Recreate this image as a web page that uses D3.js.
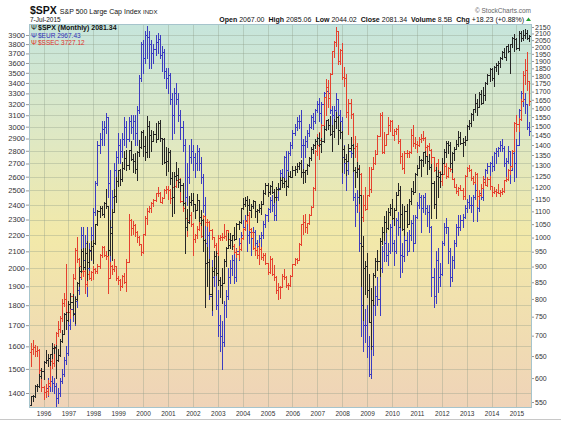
<!DOCTYPE html>
<html>
<head>
<meta charset="utf-8">
<script src="https://cdn.jsdelivr.net/npm/d3@7"></script>
<style>
  body { margin: 0; background: #fff; }
  svg text { font-family: "Liberation Sans", Arial, sans-serif; }
</style>
</head>
<body>
<div id="chart"></div>
<script>
// monthly bars, Jul 1995 .. Jul 2015
const firstMonth = new Date(1995, 6, 1);
const lastMonth = new Date(2015, 6, 1);
const eurFirstMonth = new Date(1996, 2, 1);

const yearLabels = [1996, 1997, 1998, 1999, 2000, 2001, 2002, 2003, 2004, 2005,
  2006, 2007, 2008, 2009, 2010, 2011, 2012, 2013, 2014, 2015];
const leftTicks = [1400, 1500, 1600, 1700, 1800, 1900, 2000, 2100, 2200, 2300, 2400, 2500,
  2600, 2700, 2800, 2900, 3000, 3100, 3200, 3300, 3400, 3500, 3600, 3700, 3800, 3900];
const rightTicks = [550, 600, 650, 700, 750, 800, 850, 900, 950, 1000, 1050, 1100, 1150, 1200,
  1250, 1300, 1350, 1400, 1450, 1500, 1550, 1600, 1650, 1700, 1750, 1800, 1850, 1900, 1950,
  2000, 2050, 2100, 2150];

// $SPX
const spxFirstOpen = 545;
const spxClose = [562,562,584,582,605,616,
  636,640,646,654,669,671,640,652,687,705,757,741,
  786,791,757,801,848,885,954,899,947,915,955,970,
  980,1049,1102,1112,1091,1134,1121,957,1017,1099,1164,1229,
  1280,1238,1286,1335,1302,1373,1329,1320,1283,1363,1389,1469,
  1394,1366,1499,1452,1421,1455,1431,1518,1437,1429,1315,1320,
  1366,1240,1160,1249,1256,1224,1211,1134,1041,1060,1139,1148,
  1130,1107,1147,1077,1067,990,912,916,815,886,936,880,
  856,841,848,917,964,975,990,1008,996,1051,1058,1112,
  1131,1145,1126,1107,1121,1141,1102,1104,1115,1130,1174,1212,
  1181,1204,1181,1157,1192,1191,1234,1220,1229,1207,1249,1248,
  1280,1281,1295,1311,1270,1270,1277,1304,1336,1378,1401,1418,
  1438,1407,1421,1482,1531,1503,1455,1474,1527,1549,1481,1468,
  1379,1331,1323,1386,1400,1280,1267,1283,1166,969,896,903,
  826,735,798,873,919,919,987,1021,1057,1036,1096,1115,
  1074,1104,1169,1187,1089,1031,1102,1049,1141,1183,1181,1258,
  1286,1327,1326,1364,1345,1321,1292,1219,1131,1253,1247,1258,
  1312,1366,1408,1398,1310,1362,1379,1407,1441,1412,1416,1426,
  1498,1515,1569,1598,1631,1606,1686,1633,1682,1757,1806,1848,
  1783,1859,1872,1884,1924,1960,1931,2003,1972,2018,2068,2059,
  1995,2105,2068,2086,2107,2063,2081];
const spxHigh = [563,565,586,587,608,622,
  638,664,656,656,681,673,676,666,691,714,760,762,
  794,818,815,805,851,897,958,961,961,986,960,986,
  992,1051,1106,1123,1122,1138,1191,1121,1066,1108,1193,1244,
  1280,1282,1317,1371,1375,1374,1418,1357,1362,1369,1425,1474,
  1478,1444,1553,1527,1481,1475,1517,1525,1531,1437,1434,1390,
  1384,1376,1268,1269,1316,1286,1237,1218,1136,1110,1164,1175,
  1176,1131,1173,1147,1107,1071,994,965,925,900,951,954,
  935,865,895,924,965,1015,1016,1011,1040,1054,1063,1112,
  1156,1159,1163,1151,1128,1147,1141,1109,1130,1142,1188,1218,
  1218,1212,1229,1192,1200,1219,1245,1245,1243,1233,1271,1276,
  1295,1297,1311,1318,1326,1284,1280,1308,1341,1389,1407,1431,
  1441,1462,1438,1498,1535,1541,1556,1504,1539,1576,1553,1523,
  1472,1397,1357,1404,1440,1405,1293,1314,1304,1167,1007,919,
  944,876,833,878,930,956,997,1040,1080,1101,1113,1130,
  1151,1113,1181,1220,1206,1131,1120,1130,1149,1196,1227,1263,
  1303,1344,1332,1365,1371,1346,1356,1307,1230,1293,1277,1270,
  1334,1378,1420,1422,1415,1364,1392,1427,1475,1470,1434,1448,
  1504,1531,1570,1598,1687,1654,1698,1709,1730,1759,1814,1849,
  1851,1867,1884,1897,1925,1968,1991,2005,2019,2019,2076,2094,
  2064,2120,2118,2126,2135,2130,2085];
const spxLow = [545,553,560,573,581,600,
  597,633,627,630,645,658,601,638,649,684,703,716,
  737,773,755,733,797,837,883,893,891,856,899,924,
  912,978,1046,1076,1084,1078,1114,940,939,923,1097,1137,
  1205,1212,1229,1282,1277,1281,1324,1269,1265,1233,1345,1385,
  1346,1326,1339,1339,1370,1420,1417,1430,1419,1305,1311,1254,
  1275,1216,1081,1092,1232,1203,1184,1124,945,1026,1054,1124,
  1101,1074,1106,1063,1048,953,776,837,815,768,873,872,
  841,807,789,847,902,963,963,960,990,995,1031,1053,
  1109,1122,1087,1107,1076,1114,1078,1060,1099,1090,1128,1170,
  1163,1173,1176,1137,1147,1188,1191,1201,1202,1169,1201,1246,
  1245,1254,1269,1281,1246,1219,1224,1260,1298,1326,1360,1385,
  1403,1396,1364,1416,1476,1484,1452,1371,1439,1490,1406,1436,
  1270,1317,1257,1324,1373,1272,1200,1247,1133,840,741,815,
  805,735,667,783,866,888,869,978,992,1020,1030,1086,
  1071,1045,1106,1170,1040,1029,1011,1040,1049,1131,1173,1187,
  1257,1290,1249,1295,1311,1258,1282,1075,1115,1074,1159,1203,
  1259,1312,1341,1358,1292,1267,1326,1380,1397,1403,1343,1398,
  1426,1485,1501,1536,1581,1560,1605,1627,1633,1646,1747,1767,
  1770,1738,1835,1815,1860,1915,1930,1905,1964,1821,2002,1973,
  1988,1981,2040,2048,2067,2057,2044];

// $EUR (left scale), starts Mar 1996
const eurFirstOpen = 1420;
const eurClose = [1430,1450,1440,1430,1380,1400,1450,1480,1540,1570,
  1700,1780,1760,1820,1880,1950,2200,2050,2150,2000,2100,2200,
  2350,2550,2850,2900,2980,3000,3080,2550,2250,2450,2650,2750,
  2850,2800,2900,3000,2900,3050,3000,3050,2950,3150,3450,3800,
  3650,3900,3880,3800,3700,3750,3820,3860,3680,3720,3520,3450,
  3480,3250,3100,3300,3250,3100,3000,2850,2450,2600,2750,2800,
  2750,2700,2800,2700,2600,2400,2150,2200,1850,1950,2000,1800,
  1700,1650,1620,1800,1850,1950,2000,2050,1950,2100,2150,2200,
  2250,2300,2200,2220,2180,2220,2150,2130,2180,2200,2270,2330,
  2370,2430,2400,2330,2450,2520,2630,2600,2750,2650,2780,2850,
  2950,3000,3050,3050,2850,2850,2880,2950,3000,3080,3050,3150,
  3200,3120,3200,3300,3320,3300,3150,3100,3150,3250,3100,3050,
  2750,2700,2650,2800,2780,2450,2400,2450,2150,1800,1700,1700,
  1600,1480,1600,1800,1850,1830,2000,2100,2150,2080,2100,2250,
  2150,2100,2300,2250,2080,2070,2170,2100,2200,2280,2150,2320,
  2400,2450,2380,2450,2380,2350,2250,1950,1850,2050,1950,1970,
  2150,2250,2250,2100,1950,2050,2150,2250,2250,2300,2320,2380,
  2420,2400,2400,2450,2500,2380,2480,2450,2580,2650,2680,2700,
  2680,2780,2800,2820,2850,2820,2700,2720,2800,2650,2780,2700,
  2850,3150,3300,3250,3200,3000,2967];
const eurHigh = [1460,1470,1470,1460,1440,1420,1460,1500,1550,1600,
  1740,1820,1830,1850,1910,1970,2250,2250,2200,2250,2150,2250,
  2380,2570,2880,2950,3050,3050,3120,3080,2650,2500,2700,2800,
  2950,2900,2950,3080,3050,3080,3100,3100,3100,3180,3480,3820,
  3850,3950,4000,3950,3850,3800,3900,3920,3900,3780,3750,3550,
  3550,3500,3300,3350,3400,3300,3150,3050,2900,2700,2850,2900,
  2850,2780,2850,2820,2750,2620,2450,2300,2250,2050,2100,2050,
  1880,1750,1720,1820,1880,2000,2050,2080,2100,2120,2180,2220,
  2300,2330,2330,2280,2230,2250,2230,2170,2200,2220,2290,2340,
  2380,2450,2470,2440,2460,2530,2650,2660,2760,2800,2800,2870,
  2970,3020,3080,3100,3150,2900,2920,2970,3020,3100,3120,3160,
  3230,3260,3220,3310,3360,3350,3370,3180,3180,3300,3250,3150,
  3080,2850,2750,2820,2880,2800,2480,2500,2480,2160,1900,1780,
  1800,1650,1650,1820,1900,1950,2010,2130,2200,2220,2150,2270,
  2300,2170,2310,2350,2300,2150,2200,2220,2230,2300,2330,2330,
  2420,2480,2470,2470,2480,2400,2400,2260,2000,2100,2120,2030,
  2160,2280,2310,2250,2120,2070,2170,2270,2330,2330,2340,2400,
  2440,2470,2450,2470,2580,2520,2490,2510,2600,2660,2700,2710,
  2760,2790,2820,2830,2880,2900,2840,2740,2840,2800,2800,2850,
  2900,3160,3320,3350,3300,3200,3040];
const eurLow = [1390,1410,1410,1400,1350,1360,1390,1440,1470,1520,
  1560,1680,1720,1700,1790,1860,1940,1980,2020,1850,1950,2050,
  2150,2330,2540,2780,2850,2850,2950,2450,2000,2050,2450,2550,
  2700,2700,2750,2850,2830,2880,2950,2900,2850,2850,3120,3420,
  3500,3600,3650,3550,3550,3600,3680,3700,3650,3520,3450,3350,
  3300,3200,2900,2950,3200,3050,2900,2800,2250,2400,2550,2700,
  2650,2600,2650,2650,2550,2350,1950,2000,1830,1750,1900,1780,
  1650,1580,1500,1600,1740,1830,1920,1960,1920,1930,2050,2130,
  2180,2240,2100,2150,2080,2150,2100,2080,2120,2130,2180,2250,
  2290,2350,2360,2300,2300,2430,2520,2560,2600,2580,2620,2770,
  2820,2930,2970,2990,2750,2650,2750,2830,2920,2990,2980,3030,
  3130,3050,2950,3180,3250,3250,3120,2900,2950,3130,3000,3000,
  2550,2630,2500,2620,2750,2430,2260,2350,2100,1650,1580,1620,
  1550,1470,1460,1560,1750,1800,1750,1980,2040,2040,2020,2090,
  2100,2020,2090,2200,1950,1980,2040,2080,2100,2170,2100,2160,
  2310,2380,2220,2350,2340,2260,2220,1850,1790,1810,1870,1900,
  1960,2140,2210,2030,1900,1930,2000,2130,2200,2230,2250,2310,
  2350,2380,2350,2290,2440,2290,2360,2440,2430,2560,2630,2580,
  2640,2650,2700,2760,2800,2800,2680,2590,2700,2550,2650,2570,
  2600,2850,3130,3180,3120,2980,2930];

// $SSEC (own hidden scale)
const ssecFirstOpen = 700;
const ssecClose = [715,725,705,710,620,555,
  537,540,570,660,650,720,795,815,880,970,1000,917,
  915,1018,1150,1380,1300,1240,1200,1200,1100,1180,1150,1194,
  1220,1200,1240,1340,1410,1340,1330,1150,1240,1220,1240,1147,
  1130,1090,1160,1120,1280,1690,1600,1630,1560,1510,1440,1367,
  1535,1715,1800,1836,1894,1929,2023,2022,1910,1961,2070,2073,
  2064,1960,2112,2119,2214,2218,1920,1834,1712,1690,1747,1646,
  1491,1525,1594,1661,1519,1732,1664,1669,1581,1507,1434,1357,
  1500,1512,1511,1521,1576,1487,1476,1421,1367,1348,1397,1497,
  1590,1675,1742,1595,1555,1400,1386,1342,1396,1320,1340,1266,
  1191,1306,1181,1159,1060,1080,1083,1162,1155,1092,1099,1161,
  1258,1299,1298,1440,1641,1672,1612,1658,1752,1837,2099,2675,
  2786,2881,3183,3841,4109,3820,4471,5218,5552,5954,4871,5262,
  4383,4348,3472,3693,3433,2736,2775,2397,2293,1729,1871,1821,
  1991,2082,2373,2477,2632,2959,3412,2667,2779,2996,3195,3277,
  2989,3051,3110,2871,2592,2398,2638,2639,2656,2979,2820,2808,
  2791,2906,2928,2911,2743,2762,2701,2568,2359,2469,2333,2199,
  2292,2428,2263,2397,2373,2225,2103,2047,2086,2069,1980,2269,
  2385,2366,2237,2178,2301,1979,1994,2098,2175,2141,2220,2116,
  2033,2056,2033,2026,2039,2048,2202,2217,2364,2420,2683,3235,
  3210,3310,3748,4442,4612,4277,3727];
const ssecHigh = [745,760,735,730,715,625,
  560,565,580,690,700,740,800,860,890,1000,1040,1258,
  960,1040,1180,1400,1510,1310,1260,1240,1220,1210,1200,1200,
  1240,1230,1260,1350,1420,1420,1370,1330,1280,1250,1300,1240,
  1160,1140,1170,1190,1300,1756,1700,1680,1640,1570,1520,1440,
  1540,1740,1830,1860,1900,1940,2030,2100,2040,1970,2080,2125,
  2115,2080,2130,2190,2230,2245,2230,1960,1830,1760,1790,1780,
  1660,1540,1620,1680,1670,1750,1740,1700,1680,1590,1510,1450,
  1530,1530,1550,1650,1580,1580,1520,1500,1440,1390,1420,1500,
  1600,1690,1760,1783,1600,1560,1420,1400,1450,1410,1360,1360,
  1270,1330,1310,1250,1160,1110,1090,1180,1220,1160,1110,1170,
  1260,1310,1310,1450,1650,1750,1760,1660,1760,1850,2100,2700,
  3000,3040,3200,3850,4330,4300,4500,5220,5560,6124,5920,5290,
  5522,4700,4470,3790,3790,3440,2960,2830,2410,2310,2000,2100,
  2000,2400,2400,2580,2690,2980,3460,3478,3040,3000,3360,3300,
  3300,3100,3130,3180,2900,2650,2670,2700,2680,3100,3186,2940,
  2860,2940,3000,3067,2940,2780,2830,2710,2560,2480,2540,2340,
  2300,2480,2480,2400,2460,2380,2240,2150,2100,2140,2090,2280,
  2400,2440,2370,2270,2330,2310,2060,2150,2270,2240,2250,2260,
  2110,2110,2080,2150,2060,2090,2210,2250,2370,2430,2690,3240,
  3410,3340,3800,4570,4960,5178,4180];
const ssecLow = [640,690,680,680,600,540,
  512,520,525,560,630,640,700,780,800,860,950,860,
  870,880,1000,1140,1280,1160,1150,1160,1040,1090,1140,1130,
  1140,1190,1190,1230,1320,1330,1300,1040,1150,1180,1200,1130,
  1100,1060,1080,1110,1050,1280,1530,1540,1520,1460,1430,1340,
  1360,1530,1640,1780,1780,1850,1920,1990,1900,1890,1960,2030,
  1950,1890,1950,2080,2110,2170,1900,1800,1700,1514,1660,1620,
  1340,1460,1500,1580,1510,1455,1630,1620,1570,1490,1410,1340,
  1311,1480,1480,1500,1480,1480,1460,1410,1360,1320,1307,1380,
  1490,1580,1660,1580,1510,1390,1340,1310,1260,1300,1290,1260,
  1180,1190,1170,1130,1040,998,1004,1080,1140,1080,1070,1090,
  1160,1250,1270,1290,1430,1540,1560,1550,1640,1750,1840,2070,
  2600,2540,2800,3180,3400,3600,3560,4470,5000,5400,4780,4780,
  4330,4120,3360,2990,3330,2690,2570,2280,1800,1660,1680,1810,
  1840,1990,2040,2370,2460,2640,2950,2640,2640,2780,2990,3060,
  2980,2890,2990,2830,2480,2380,2320,2570,2570,2640,2760,2740,
  2660,2770,2850,2880,2700,2610,2690,2440,2350,2300,2320,2130,
  2130,2290,2240,2250,2340,2220,2100,2030,2000,2060,1950,1950,
  2260,2340,2210,2150,2170,1850,1950,1980,2090,2130,2120,2080,
  1990,2030,1980,2020,1990,2010,2040,2190,2210,2290,2400,2680,
  3050,3050,3300,3750,4200,4020,3630];

const width = 561, height = 421;
const plot = {left: 29, right: 532, top: 24, bottom: 408};

const svg = d3.select("#chart").append("svg")
  .attr("width", width)
  .attr("height", height);

// background gradient of the price panel
const grad = svg.append("defs").append("linearGradient")
  .attr("id", "bg").attr("x1", 0).attr("y1", 0).attr("x2", 0).attr("y2", 1);
grad.append("stop").attr("offset", "0%").attr("stop-color", "#c6e5dc");
grad.append("stop").attr("offset", "30%").attr("stop-color", "#dfe8c3");
grad.append("stop").attr("offset", "55%").attr("stop-color", "#f2e9a9");
grad.append("stop").attr("offset", "100%").attr("stop-color", "#efd3b8");

svg.append("rect")
  .attr("x", plot.left).attr("y", plot.top)
  .attr("width", plot.right - plot.left).attr("height", plot.bottom - plot.top)
  .attr("fill", "url(#bg)");

const months = d3.timeMonth.range(firstMonth, d3.timeMonth.offset(lastMonth, 1));
const x = d3.scaleLinear().domain([-1, months.length]).range([plot.left, plot.right - 1]);
const yLeft = d3.scaleLog().domain([1400, 3900]).range([393, 35]);
const yRight = d3.scaleLog().domain([550, 2150]).range([402, 27]);
const ySsec = d3.scaleLog().domain([512, 6124]).range([399, 27]);

const janIdx = yearLabels.map(yr => months.findIndex(m => m.getFullYear() === yr && m.getMonth() === 0));

// grid
const grid = svg.append("g").attr("stroke", "#8c9a86").attr("stroke-opacity", 0.35)
  .attr("shape-rendering", "crispEdges");
grid.selectAll(".vg").data(janIdx).join("line")
  .attr("x1", d => Math.round(x(d)) + 0.5).attr("x2", d => Math.round(x(d)) + 0.5)
  .attr("y1", plot.top).attr("y2", plot.bottom);
grid.selectAll(".hg").data(leftTicks).join("line")
  .attr("x1", plot.left).attr("x2", plot.right)
  .attr("y1", d => Math.round(yLeft(d)) + 0.5).attr("y2", d => Math.round(yLeft(d)) + 0.5);

// ohlc bars
function drawBars(startIdx, firstOpen, close, high, low, y, color) {
  const bars = close.map((c, k) => ({
    i: startIdx + k, o: k ? close[k - 1] : firstOpen, c: c, h: high[k], l: low[k]
  }));
  const g = svg.append("g").attr("stroke", color).attr("shape-rendering", "crispEdges");
  const px = d => Math.round(x(d.i)) + 0.5;
  const py = v => Math.round(y(v)) + 0.5;
  g.selectAll(".hl").data(bars).join("line")
    .attr("x1", px).attr("x2", px)
    .attr("y1", d => py(Math.max(d.h, d.o, d.c)) - 0.5)
    .attr("y2", d => py(Math.min(d.l, d.o, d.c)) + 0.5);
  g.selectAll(".op").data(bars).join("line")
    .attr("x1", d => px(d) - 1.5).attr("x2", px)
    .attr("y1", d => py(d.o)).attr("y2", d => py(d.o));
  g.selectAll(".cl").data(bars).join("line")
    .attr("x1", px).attr("x2", d => px(d) + 1.5)
    .attr("y1", d => py(d.c)).attr("y2", d => py(d.c));
}

const eurStart = months.findIndex(m => +m === +eurFirstMonth);
drawBars(eurStart, eurFirstOpen, eurClose, eurHigh, eurLow, yLeft, "#3c3cc0");
drawBars(0, ssecFirstOpen, ssecClose, ssecHigh, ssecLow, ySsec, "#e5412f");
drawBars(0, spxFirstOpen, spxClose, spxHigh, spxLow, yRight, "#262626");

// frame
svg.append("rect")
  .attr("x", plot.left + 0.5).attr("y", plot.top + 0.5)
  .attr("width", plot.right - plot.left - 1).attr("height", plot.bottom - plot.top - 1)
  .attr("fill", "none").attr("stroke", "#a6c4cc");

// axes
const leftAxis = svg.append("g")
  .attr("transform", `translate(${plot.left},0)`)
  .call(d3.axisLeft(yLeft).tickValues(leftTicks).tickSize(3).tickPadding(1).tickFormat(d3.format("d")));
const rightAxis = svg.append("g")
  .attr("transform", `translate(${plot.right},0)`)
  .call(d3.axisRight(yRight).tickValues(rightTicks).tickSize(2).tickPadding(1).tickFormat(d3.format("d")));
const bottomAxis = svg.append("g")
  .attr("transform", `translate(0,${plot.bottom})`)
  .call(d3.axisBottom(x).tickValues(janIdx).tickSize(0).tickPadding(3).tickFormat((d, k) => yearLabels[k]));
[leftAxis, rightAxis, bottomAxis].forEach(a => {
  a.select(".domain").remove();
  a.selectAll("line").attr("stroke", "#999");
  a.selectAll("text").attr("fill", "#333").attr("font-family", "Liberation Sans, Arial, sans-serif");
});
leftAxis.selectAll("text").attr("font-size", 7.5);
rightAxis.selectAll("text").attr("font-size", 7);
bottomAxis.selectAll("text").attr("font-size", 6.5);

svg.append("line").attr("x1", 0).attr("x2", width).attr("y1", 419.5).attr("y2", 419.5)
  .attr("stroke", "#c8c8c8");

// header
const head = svg.append("text").attr("x", 30).attr("y", 14).attr("fill", "#111");
head.append("tspan").attr("font-weight", "bold").attr("font-size", 10.5).text("$SPX");
head.append("tspan").attr("font-size", 7).attr("dx", 3).text("S&P 500 Large Cap Index");
head.append("tspan").attr("font-size", 6).attr("dx", 2).text("INDX");
svg.append("text").attr("x", 30).attr("y", 22).attr("font-size", 6.5).attr("fill", "#111").text("7-Jul-2015");
svg.append("text").attr("x", 531).attr("y", 13).attr("text-anchor", "end")
  .attr("font-size", 6.5).attr("fill", "#666").text("© StockCharts.com");

const quote = [["Open", "2067.00"], ["High", "2085.06"], ["Low", "2044.02"], ["Close", "2081.34"],
  ["Volume", "8.5B"], ["Chg", "+18.23 (+0.88%)"]];
const qt = svg.append("text").attr("x", 524).attr("y", 21.5).attr("text-anchor", "end")
  .attr("font-size", 7).attr("fill", "#111");
quote.forEach(([k, v], j) => {
  qt.append("tspan").attr("font-weight", "bold").attr("dx", j ? 4 : 0).text(k);
  qt.append("tspan").attr("dx", 2).text(v);
});
svg.append("path").attr("d", "M526,21 L531,21 L528.5,17.5 Z").attr("fill", "#22a030");

// legend
const legend = [
  {label: "$SPX (Monthly) 2081.34", color: "#111", y: 30, mono: true},
  {label: "$EUR 2967.43", color: "#2f2fb8", y: 37.5, mono: false},
  {label: "$SSEC 3727.12", color: "#e0302a", y: 44.5, mono: false}
];
legend.forEach(l => {
  svg.append("text").attr("x", 31).attr("y", l.y).attr("font-size", 7).attr("fill", l.color).text("Ψ");
  svg.append("text").attr("x", 38).attr("y", l.y)
    .attr("font-size", l.mono ? 7 : 6.5)
    .attr("font-family", l.mono ? "DejaVu Sans Mono, monospace" : "Liberation Sans, Arial, sans-serif")
    .attr("font-weight", l.mono ? "bold" : "normal")
    .attr("fill", l.color).text(l.label);
});
</script>
</body>
</html>
